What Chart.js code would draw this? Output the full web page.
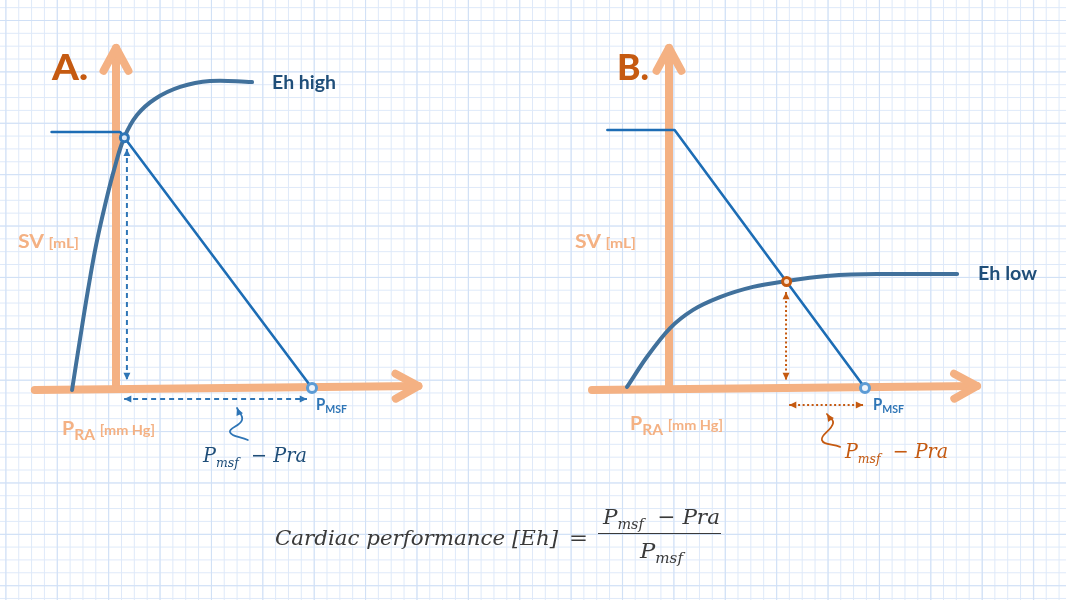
<!DOCTYPE html>
<html><head><meta charset="utf-8">
<script src="https://cdn.jsdelivr.net/npm/chart.js@4.4.1/dist/chart.umd.min.js"></script>
<style>
html,body{margin:0;padding:0}
body{width:1066px;height:600px;position:relative;overflow:hidden;background-color:#fff;
background-image:
 linear-gradient(to right, #d0e0f6 1.4px, transparent 1.4px),
 linear-gradient(to bottom, #d0e0f6 1.4px, transparent 1.4px),
 linear-gradient(to right, #dee9f9 1.2px, transparent 1.2px),
 linear-gradient(to bottom, #dee9f9 1.2px, transparent 1.2px);
background-size:51.4px 100%,100% 51.4px,12.85px 100%,100% 12.85px;
background-position:5.4px 0,0 20px,5.4px 0,0 7.15px;}
canvas{position:absolute;top:0}
.t{position:absolute;white-space:nowrap;line-height:1;transform-origin:0 50%}
.lato{font-family:Lato,"Open Sans",sans-serif;font-weight:700}
.heavy{font-weight:900}
.math{font-family:"DejaVu Serif",serif;font-style:italic}
.rel{position:relative}
</style></head>
<body>
<canvas id="panelA" width="533" height="600" style="left:0"></canvas>
<canvas id="panelB" width="533" height="600" style="left:533px"></canvas>
<script>
// ---------- data (x: right atrial pressure P_RA [mm Hg], y: stroke volume SV [mL]) ----------
const PMSF = 7;
// Panel A – high cardiac performance
const axisPraA = [[-2.9, -0.8], [10.8, 0.8]];
const axisSvA = [[0, 0], [0, 132.8]];
const venousReturnA = [[-2.3, 100], [0.15, 100], [PMSF, 0]];
const ehHighCurve = [[-1.57, -0.8], [-1.29, 18.75], [-1.0, 38.3], [-0.71, 55.9], [-0.39, 71.5], [-0.07, 85.2], [0.29, 97.7], [0.75, 106.6], [1.39, 112.9], [2.29, 117.6], [3.36, 119.9], [4.86, 119.5]];
const operatingPointA = [[0.3, 97.8]];
const msfPointA = [[PMSF, 0]];
const svDropA = [[0.39, 93.4], [0.39, 3.1]];
const gradientA = [[0.29, -4.3], [6.82, -4.3]];
const pointerA = [[4.71, -20.3], [4.07, -17.2], [4.5, -12.5], [4.32, -7.8]];
// Panel B – low cardiac performance
const axisPraB = [[-2.75, -0.8], [11.0, 0.8]];
const axisSvB = [[0, 0], [0, 132.8]];
const venousReturnB = [[-2.2, 100.8], [0.2, 100.8], [PMSF, 0]];
const ehLowCurve = [[-1.5, 0.4], [-0.79, 12.1], [0.04, 23.4], [0.86, 30.5], [1.82, 35.5], [3.0, 39.5], [4.21, 41.8], [5.64, 43.75], [7.43, 44.5], [10.29, 44.5]];
const operatingPointB = [[4.2, 41.6]];
const msfPointB = [[PMSF, 0]];
const svDropB = [[4.18, 37.5], [4.18, 3.1]];
const gradientB = [[4.29, -6.6], [6.93, -6.6]];
const pointerB = [[6.11, -23], [5.46, -20.3], [5.86, -13.7], [5.64, -10.2]];

// ---------- styling / layout ----------
const PX_X = 28, PX_Y = 2.56, W = 533, H = 600;
const ORANGE = '#f4b183', BROWN = '#c55a11', NAVY = '#1f4e79', CURVE = '#41719c', LINE = '#1d6db5', MID = '#2e75b6', LIGHT = '#5b9bd5';

const pts = a => a.map(p => ({x: p[0], y: p[1]}));
const base = {pointRadius: 0, fill: false, tension: 0, borderCapStyle: 'round', borderJoinStyle: 'round'};
function axisDs(a){return Object.assign({}, base, {data: pts(a), borderColor: ORANGE, borderWidth: 8, order: 10, arrow: {end: 'chevron', size: 26, angle: 0.5, width: 8}});}
function lineDs(a, color, w, extra){return Object.assign({}, base, {data: pts(a), borderColor: color, borderWidth: w, order: 5}, extra || {});}
function markerDs(a, color, fillc, r){return {data: pts(a), showLine: false, pointRadius: r, pointBorderWidth: 3, pointBorderColor: color, pointBackgroundColor: fillc, order: 0};}

const arrowPlugin = {
  id: 'arrowHeads',
  afterDatasetsDraw(chart){
    const ctx = chart.ctx;
    chart.data.datasets.forEach((ds, i) => {
      if (!ds.arrow) return;
      const el = chart.getDatasetMeta(i).data;
      const head = (tip, from) => {
        const a = ds.arrow, ang = Math.atan2(tip.y - from.y, tip.x - from.x);
        const p1 = {x: tip.x - a.size * Math.cos(ang - a.angle), y: tip.y - a.size * Math.sin(ang - a.angle)};
        const p2 = {x: tip.x - a.size * Math.cos(ang + a.angle), y: tip.y - a.size * Math.sin(ang + a.angle)};
        ctx.save();
        ctx.beginPath(); ctx.moveTo(p1.x, p1.y); ctx.lineTo(tip.x, tip.y); ctx.lineTo(p2.x, p2.y);
        if (a.end === 'chevron') { ctx.setLineDash([]); ctx.lineWidth = a.width; ctx.lineJoin = 'round'; ctx.lineCap = 'round'; ctx.strokeStyle = ds.borderColor; ctx.stroke(); }
        else { ctx.closePath(); ctx.fillStyle = ds.borderColor; ctx.fill(); }
        ctx.restore();
      };
      const n = el.length;
      if (ds.arrow.end) head(el[n - 1], el[n - 2]);
      if (ds.arrow.start) head(el[0], el[1]);
    });
  }
};

function makePanel(id, originX, originY, datasets){
  const chart = new Chart(document.getElementById(id), {
    type: 'line',
    data: {datasets},
    options: {
      responsive: false, animation: false, events: [],
      layout: {padding: 0},
      plugins: {legend: {display: false}, tooltip: {enabled: false}},
      scales: {
        x: {type: 'linear', display: false, min: -originX / PX_X, max: (W - originX) / PX_X},
        y: {type: 'linear', display: false, min: -(H - originY) / PX_Y, max: originY / PX_Y}
      }
    },
    plugins: [arrowPlugin]
  });
  // keep a fixed pixel scale regardless of the padding Chart.js reserves for line widths
  const ca = chart.chartArea;
  chart.options.scales.x.min = (ca.left - originX) / PX_X;
  chart.options.scales.x.max = (ca.right - originX) / PX_X;
  chart.options.scales.y.max = (originY - ca.top) / PX_Y;
  chart.options.scales.y.min = (originY - ca.bottom) / PX_Y;
  chart.update('none');
  return chart;
}

const tri = {end: 'tri', start: 'tri', size: 8, angle: 0.45};
makePanel('panelA', 116, 388, [
  axisDs(axisPraA), axisDs(axisSvA),
  lineDs(ehHighCurve, CURVE, 4, {tension: 0.4, order: 4}),
  lineDs(venousReturnA, LINE, 2.6),
  lineDs(svDropA, MID, 2, {borderDash: [5, 4], borderCapStyle: 'butt', arrow: tri}),
  lineDs(gradientA, MID, 2, {borderDash: [5, 4], borderCapStyle: 'butt', arrow: tri}),
  lineDs(pointerA, MID, 1.8, {tension: 0.45, arrow: {end: 'tri', size: 8, angle: 0.45}}),
  markerDs(operatingPointA, MID, '#dbe8f6', 4),
  markerDs(msfPointA, LIGHT, '#eef4fb', 4.5)
]);
makePanel('panelB', 136, 388, [
  axisDs(axisPraB), axisDs(axisSvB),
  lineDs(ehLowCurve, CURVE, 4, {cubicInterpolationMode: 'monotone', order: 4}),
  lineDs(venousReturnB, LINE, 2.6),
  lineDs(svDropB, BROWN, 2, {borderDash: [2, 2.5], borderCapStyle: 'butt', arrow: tri}),
  lineDs(gradientB, BROWN, 2, {borderDash: [2, 2.5], borderCapStyle: 'butt', arrow: tri}),
  lineDs(pointerB, BROWN, 1.8, {tension: 0.45, arrow: {end: 'tri', size: 8, angle: 0.45}}),
  markerDs(operatingPointB, BROWN, '#fbe3d2', 4),
  markerDs(msfPointB, LIGHT, '#eef4fb', 4.5)
]);

// ---------- text (real HTML text) ----------
const mctx = document.createElement('canvas').getContext('2d');
function label(html, x, baseline, cls, size, color, width){
  const d = document.createElement('div');
  d.className = 't ' + cls; d.innerHTML = html;
  d.style.fontSize = size + 'px'; d.style.color = color; d.style.left = x + 'px';
  document.body.appendChild(d);
  const cs = getComputedStyle(d);
  mctx.font = cs.fontStyle + ' ' + cs.fontWeight + ' ' + size + 'px ' + cs.fontFamily;
  const m = mctx.measureText('M');
  const A = m.fontBoundingBoxAscent || size * 0.9, D = m.fontBoundingBoxDescent || size * 0.22;
  d.style.top = (baseline - (size + A - D) / 2) + 'px';
  if (width) { const w = d.getBoundingClientRect().width; d.style.transform = 'scaleX(' + (width / w) + ')'; }
  return d;
}
const sub = (t, s, dy) => '<span class="rel" style="font-size:' + s + 'px;top:' + dy + 'px">' + t + '</span>';
const small = (t, s) => '<span style="font-size:' + s + 'px">' + t + '</span>';

// Panel A labels
label('A.', 52, 80, 'lato heavy', 36, BROWN, 36);
label('Eh high', 272, 89, 'lato', 18, NAVY, 64);
label('SV ' + small('[mL]', 14), 18, 248, 'lato', 19, ORANGE, 61);
label('P' + sub('RA', 15, 5) + ' ' + small('[mm Hg]', 14), 62, 435, 'lato', 19, ORANGE, 93);
label('P' + sub('MSF', 12, 3), 316, 410, 'lato', 17, MID, 31);
label('P' + sub('msf', 13, 5) + '&nbsp;&nbsp;− <span>Pra</span>', 203, 462, 'math', 20, NAVY, 104);
// Panel B labels
label('B.', 617, 80, 'lato heavy', 36, BROWN, 32);
label('Eh low', 978, 280, 'lato', 18, NAVY, 59);
label('SV ' + small('[mL]', 14), 575, 248, 'lato', 19, ORANGE, 61);
label('P' + sub('RA', 15, 5) + ' ' + small('[mm Hg]', 14), 630, 430, 'lato', 19, ORANGE, 93);
label('P' + sub('MSF', 12, 3), 873, 410, 'lato', 17, MID, 31);
label('P' + sub('msf', 13, 5) + '&nbsp;&nbsp;− <span>Pra</span>', 845, 458, 'math', 20, BROWN, 103);
// Formula
label('Cardiac performance [Eh]', 275, 545, 'math', 21, '#3a3a3a', 283);
label('<span style="font-style:normal">=</span>', 569, 545, 'math', 21, '#3a3a3a', 19);
label('P' + sub('msf', 14, 5) + '&nbsp;&nbsp;− Pra', 603, 524, 'math', 21, '#3a3a3a', 117);
label('P' + sub('msf', 14, 5), 640, 558, 'math', 21, '#3a3a3a', 43);
const bar = document.createElement('div');
bar.style.cssText = 'position:absolute;left:598px;top:533px;width:123px;height:1.3px;background:#3a3a3a';
document.body.appendChild(bar);
</script>
</body></html>
